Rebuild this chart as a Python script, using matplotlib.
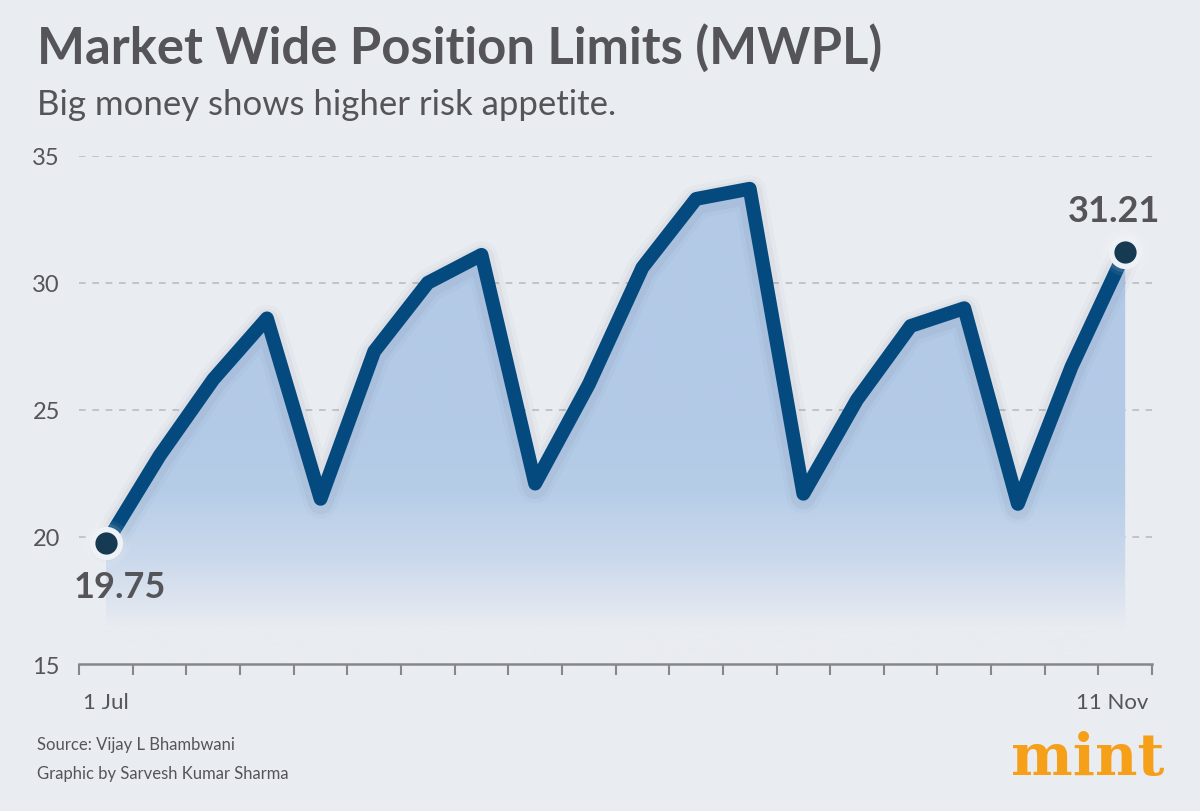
import matplotlib
matplotlib.use("Agg")
import matplotlib.pyplot as plt
import numpy as np
from matplotlib.colors import LinearSegmentedColormap
from matplotlib.patches import Polygon

# data: MWPL readings, 1 Jul to 11 Nov
mwpl = [19.75, 23.2, 26.2, 28.6, 21.5, 27.3, 30.0, 31.1, 22.1, 26.0,
        30.6, 33.3, 33.7, 21.7, 25.4, 28.3, 29.0, 21.3, 26.7, 31.21]
x_labels = ['1 Jul', '11 Nov']
y_ticks = [15, 20, 25, 30, 35]

bg = '#e9ecf1'
line_col = '#054a7e'
text_col = '#555559'

plt.rcParams['font.family'] = ['Lato', 'DejaVu Sans']

fig = plt.figure(figsize=(12, 8.12), dpi=100, facecolor=bg)
ax = fig.add_axes([0.066, 0.181, 0.894, 0.626])
ax.set_facecolor(bg)

n = len(mwpl)
xs = np.arange(n) + 0.5

ax.set_xlim(0, n)
ax.set_ylim(15, 35)

# gradient fill under the line
verts = [(xs[0], 15)] + list(zip(xs, mwpl)) + [(xs[-1], 15)]
poly = Polygon(verts, closed=True, facecolor='none', edgecolor='none')
ax.add_patch(poly)
cmap = LinearSegmentedColormap.from_list('fill', [bg, '#cbd9ec', '#b6cde8', '#b3cae7'])
grad = np.linspace(0, 1, 256).reshape(-1, 1)
grad = np.clip((grad - 0.07) / 0.4, 0, 1)
img = ax.imshow(grad, extent=[0, n, 15, 35], origin='lower', aspect='auto',
                cmap=cmap, zorder=1)
img.set_clip_path(poly)

# grid lines
for v in y_ticks[1:]:
    ax.axhline(v, color='#b9bcc2', lw=1.2, ls=(0, (4, 4)), zorder=0.5)

# soft shadow under the line
for w, a in [(24, 0.025), (18, 0.04)]:
    ax.plot(xs, np.array(mwpl) - 0.12, color='#1a2a40', lw=w, alpha=a,
            solid_joinstyle='round', solid_capstyle='round', zorder=2)
ax.plot(xs, mwpl, color=line_col, lw=10, solid_joinstyle='round',
        solid_capstyle='butt', zorder=3)

# end markers
for i in (0, n - 1):
    for s, a in [(34, 0.06), (29, 0.1)]:
        ax.plot(xs[i], mwpl[i], 'o', ms=s, color='#ffffff', alpha=a, mew=0, zorder=4)
    ax.plot(xs[i], mwpl[i], 'o', ms=24, color='#eef1f5', mew=0, zorder=4)
    ax.plot(xs[i], mwpl[i], 'o', ms=16, color='#163a52', mew=0, zorder=5)

ax.text(xs[0] + 0.25, mwpl[0] - 1.05, f'{mwpl[0]:.2f}', ha='center', va='top',
        fontsize=26, fontweight='bold', color=text_col, zorder=6)
ax.text(xs[-1] - 0.2, mwpl[-1] + 1.0, f'{mwpl[-1]:.2f}', ha='center', va='bottom',
        fontsize=26, fontweight='bold', color=text_col, zorder=6)

# axes styling
for s in ['top', 'right', 'left']:
    ax.spines[s].set_visible(False)
ax.spines['bottom'].set_color('#85878b')
ax.spines['bottom'].set_linewidth(1.8)
ax.set_xticks(np.arange(n + 1))
ax.set_xticklabels([])
ax.tick_params(axis='x', length=8, width=1.5, color='#85878b')
ax.set_yticks(y_ticks)
ax.set_yticklabels([str(v) for v in y_ticks], fontsize=17, color=text_col)
ax.tick_params(axis='y', length=0, pad=14)

ax.text(xs[0], -0.055, x_labels[0], transform=ax.get_xaxis_transform(),
        ha='center', va='top', fontsize=16, color=text_col)
ax.text(xs[-1] - 0.25, -0.055, x_labels[1], transform=ax.get_xaxis_transform(),
        ha='center', va='top', fontsize=16, color=text_col)

# titles and footer
fig.text(0.031, 0.941, 'Market Wide Position Limits (MWPL)', ha='left', va='center',
         fontsize=36.5, fontweight='bold', color=text_col)
fig.text(0.031, 0.871, 'Big money shows higher risk appetite.', ha='left', va='center',
         fontsize=25, color=text_col)
fig.text(0.031, 0.082, 'Source: Vijay L Bhambwani', ha='left', va='center',
         fontsize=12, color=text_col)
fig.text(0.031, 0.047, 'Graphic by Sarvesh Kumar Sharma', ha='left', va='center',
         fontsize=12, color=text_col)
fig.text(0.97, 0.065, 'mint', ha='right', va='center', fontsize=42,
         fontweight='bold', color='#f6a01a', family=['DejaVu Serif'])

fig.savefig('out.png', dpi=100, facecolor=bg)
